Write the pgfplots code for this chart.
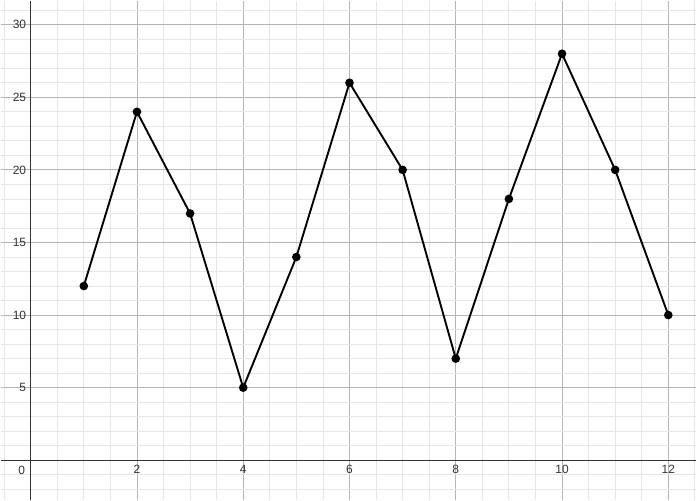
\documentclass[border=0pt]{standalone}
\usepackage{fontspec}
\setmainfont{Liberation Sans}
\usepackage{pgfplots}
\pgfplotsset{compat=1.18}
\definecolor{majgrid}{HTML}{B4B4B4}
\definecolor{mingrid}{HTML}{E6E6E6}
\definecolor{axcol}{HTML}{333333}
\begin{document}
\begin{tikzpicture}
\begin{axis}[
    scale only axis,
    width=697pt, height=500pt,
    xmin=-0.563, xmax=12.526,
    ymin=-2.715, ymax=31.65,
    axis lines=middle,
    axis line style={-, axcol, line width=1.5pt},
    xtick={2,4,...,12},
    ytick={5,10,...,30},
    minor xtick={-0.5,0.5,1,...,12.5},
    minor ytick={-2,-1,...,31},
    grid=both,
    major grid style={majgrid, line width=0.8pt},
    minor grid style={mingrid, line width=0.8pt},
    major tick length=0pt, minor tick length=0pt,
    /pgf/number format/assume math mode=true,
    tick label style={font=\fontsize{12}{14}\selectfont, text=axcol},
    xticklabel style={anchor=north, yshift=-1pt},
    yticklabel style={anchor=east, xshift=-1pt},
    clip=false,
]
\addplot[black, line width=1.9pt, mark=*, mark size=3.3pt] coordinates {
  (1,12) (2,24) (3,17) (4,5) (5,14) (6,26)
  (7,20) (8,7) (9,18) (10,28) (11,20) (12,10)
};
\node[anchor=north east, font=\fontsize{12}{14}\selectfont, text=axcol, xshift=-2pt, yshift=-2pt] at (axis cs:0,0) {0};
\end{axis}
\end{tikzpicture}
\end{document}
